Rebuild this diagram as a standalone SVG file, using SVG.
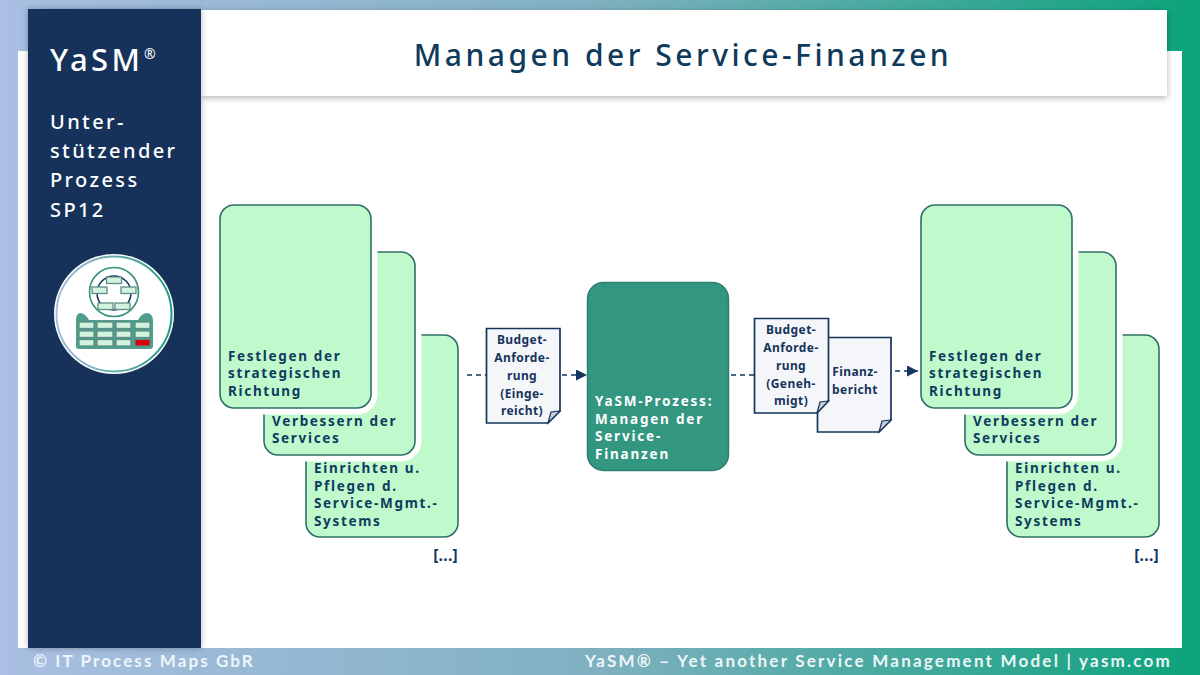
<svg xmlns="http://www.w3.org/2000/svg" width="1200" height="675" viewBox="0 0 1200 675">
<defs>
<linearGradient id="bg" x1="0" y1="0" x2="1" y2="0"><stop offset="0" stop-color="#aabfe3"/><stop offset="0.5" stop-color="#7fb0c0"/><stop offset="1" stop-color="#0ba37b"/></linearGradient>
<linearGradient id="ring" x1="0" y1="0" x2="1" y2="0"><stop offset="0" stop-color="#a9bddf"/><stop offset="1" stop-color="#1f9b7c"/></linearGradient>
<filter id="sh" x="-10%" y="-30%" width="120%" height="170%"><feDropShadow dx="0" dy="2" stdDeviation="3" flood-color="#000" flood-opacity="0.3"/></filter>
<filter id="sh2" x="-20%" y="-5%" width="140%" height="110%"><feDropShadow dx="0" dy="0" stdDeviation="3" flood-color="#000" flood-opacity="0.3"/></filter>
<marker id="arrow" viewBox="0 0 10 10" refX="10" refY="5" markerWidth="11" markerHeight="11" markerUnits="userSpaceOnUse" orient="auto"><path d="M0 0L10 5L0 10Z" fill="#12355f"/></marker>
<style>
text{font-family:"Noto Sans","DejaVu Sans",sans-serif}
.side{font-size:20px;font-weight:500;letter-spacing:2.4px;fill:#fff}
.foot{font-family:Lato,"Liberation Sans",sans-serif;font-size:17px;font-weight:700;fill:#eef5f8}
.card{fill:#c0f9cc;stroke:#2f6f68;stroke-width:1.6}
.halo{fill:#fff;stroke:#fff;stroke-width:13}
.lbl{font-size:13.5px;font-weight:700;letter-spacing:1.68px;fill:#0f3b5e}
.wl{font-size:13.5px;font-weight:700;letter-spacing:1.8px;fill:#fff}
.doc{fill:#f5f6fa;stroke:#15345a;stroke-width:1.7}
.fold{fill:#c9ced6;stroke:#15345a;stroke-width:1.2}
.dl{font-size:12px;font-weight:700;letter-spacing:.42px;fill:#15345a;text-anchor:middle}
.br{font-size:15.5px;font-weight:700;letter-spacing:.3px;fill:#12355f;text-anchor:end}
.con{fill:none;stroke:#12355f;stroke-width:1.3;stroke-dasharray:5 4}
.ic{fill:#d4f3dc;stroke:#5c8f88;stroke-width:1.3}
</style>
<g id="card-stack">
<rect class="card" x="306" y="335" width="152" height="202" rx="14"/>
<rect class="halo" x="264" y="252" width="151" height="203" rx="14"/>
<rect class="card" x="264" y="252" width="151" height="203" rx="14"/>
<rect class="halo" x="220" y="205" width="151" height="203" rx="14"/>
<rect class="card" x="220" y="205" width="151" height="203" rx="14"/>
<text class="lbl"><tspan x="228" y="360.500">Festlegen der</tspan><tspan x="228" y="378">strategischen</tspan><tspan x="228" y="395.500">Richtung</tspan></text>
<text class="lbl"><tspan x="272" y="425.500">Verbessern der</tspan><tspan x="272" y="443">Services</tspan></text>
<text class="lbl"><tspan x="314" y="473">Einrichten u.</tspan><tspan x="314" y="490.500">Pflegen d.</tspan><tspan x="314" y="508">Service-Mgmt.-</tspan><tspan x="314" y="525.500">Systems</tspan></text>
<text class="br" x="458" y="561">[...]</text>
</g>
</defs>
<rect id="background" width="1200" height="675" fill="url(#bg)"/>
<rect id="canvas" x="18" y="51" width="1164" height="597" fill="#fff"/>
<g id="title-bar"><rect x="201" y="10" width="966" height="86" fill="#fff" filter="url(#sh)"/>
<text x="683" y="66" text-anchor="middle" font-size="30" font-weight="500" letter-spacing="3.5" fill="#0e3a5c">Managen der Service-Finanzen</text></g>
<g id="sidebar"><rect x="28" y="9" width="173" height="639" fill="#16325a" filter="url(#sh2)"/>
<text x="50" y="71" font-size="31" font-weight="500" letter-spacing="3.4" fill="#fff">YaSM</text>
<text x="144" y="59" font-size="14" fill="#fff">®</text>
<text class="side"><tspan x="50" y="129">Unter-</tspan><tspan x="50" y="158">stützender</tspan><tspan x="50" y="187">Prozess</tspan><tspan x="50" y="217">SP12</tspan></text>
<g id="icon">
<circle cx="114" cy="314" r="60" fill="#fff"/>
<circle cx="114" cy="314" r="57.500" fill="none" stroke="url(#ring)" stroke-width="2"/>
<circle cx="114" cy="292" r="24.500" fill="#fff" stroke="#35917d" stroke-width="1.600"/>
<circle cx="114" cy="293" r="17" fill="none" stroke="#16325a" stroke-width="1.500"/>
<rect class="ic" x="106.500" y="277" width="15" height="6.500"/><rect class="ic" x="92" y="287" width="15" height="6.500"/><rect class="ic" x="121" y="287" width="15" height="6.500"/><rect class="ic" x="98" y="303" width="15" height="6.500"/><rect class="ic" x="115" y="303" width="15" height="6.500"/>
<path d="M76 346V320q0-6 4-7q5 0 9 7H138q4-7 9-7q6 1 6 7V346q0 3-3 3H79q-3 0-3-3Z" fill="#4f9d8b"/>
<g>
<rect class="ic" x="79" y="322" width="15" height="6.500"/><rect class="ic" x="97" y="322" width="16" height="6.500"/><rect class="ic" x="116" y="322" width="15" height="6.500"/><rect class="ic" x="135" y="322" width="15" height="6.500"/>
<rect class="ic" x="79" y="331" width="15" height="6.500"/><rect class="ic" x="97" y="331" width="16" height="6.500"/><rect class="ic" x="116" y="331" width="15" height="6.500"/><rect class="ic" x="135" y="331" width="15" height="6.500"/>
<rect class="ic" x="79" y="339.500" width="15" height="6.500"/><rect class="ic" x="97" y="339.500" width="16" height="6.500"/><rect class="ic" x="116" y="339.500" width="15" height="6.500"/><rect x="135" y="339.500" width="15" height="6.500" fill="#d8000c" stroke="#5c8f88"/>
</g></g></g>
<g id="stack-left"><use href="#card-stack"/></g>
<g id="stack-right"><use href="#card-stack" x="701"/></g>
<g id="connectors">
<path class="con" d="M467 375H486"/>
<path class="con" d="M562 375H587" marker-end="url(#arrow)"/>
<path class="con" d="M731 375H754"/>
<path class="con" d="M895 371H918" marker-end="url(#arrow)"/>
</g>
<g id="process"><rect x="587.500" y="282.500" width="141" height="188" rx="16" fill="#339680" stroke="#2f7f70" stroke-width="1.500"/>
<text class="wl"><tspan x="595" y="405.500">YaSM-Prozess:</tspan><tspan x="595" y="423.500">Managen der</tspan><tspan x="595" y="441">Service-</tspan><tspan x="595" y="458.500">Finanzen</tspan></text></g>
<g id="doc-eingereicht"><path class="doc" d="M486.500 328.500H560V411L548 423H486.500Z"/><path class="fold" d="M560 411L548 423L551 412Z"/>
<text class="dl"><tspan x="522" y="344">Budget-</tspan><tspan x="522" y="362">Anforde-</tspan><tspan x="522" y="380">rung</tspan><tspan x="522" y="398">(Einge-</tspan><tspan x="522" y="415">reicht)</tspan></text></g>
<g id="doc-finanzbericht"><path class="doc" d="M817.500 337.500H891V420L879 432H817.500Z"/><path class="fold" d="M891 420L879 432L882 421Z"/>
<text class="dl"><tspan x="855" y="376">Finanz-</tspan><tspan x="855" y="394">bericht</tspan></text></g>
<g id="doc-genehmigt"><path class="doc" d="M754.500 318.500H828.500V401L817 413H754.500Z"/><path class="fold" d="M828.500 401L817 413L820 402Z"/>
<text class="dl"><tspan x="791" y="334">Budget-</tspan><tspan x="791" y="352">Anforde-</tspan><tspan x="791" y="370">rung</tspan><tspan x="791" y="388">(Geneh-</tspan><tspan x="791" y="405">migt)</tspan></text></g>
<g id="footer"><text class="foot" x="33" y="666.500" letter-spacing="2.1">© IT Process Maps GbR</text>
<text class="foot" x="1172" y="666.500" text-anchor="end" letter-spacing="2.22">YaSM® – Yet another Service Management Model | yasm.com</text></g>
</svg>
